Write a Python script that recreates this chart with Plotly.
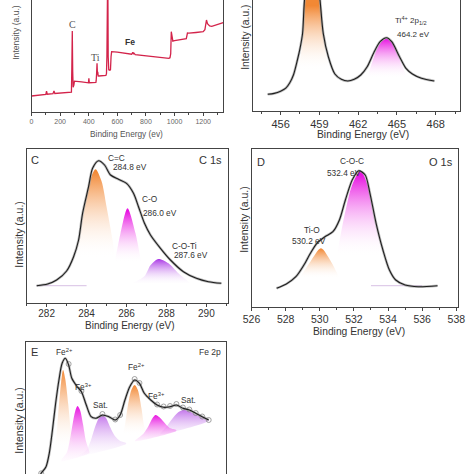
import plotly.graph_objects as go

# ---------------- data ----------------
# Panel A : survey spectrum
survey_be = [0, 50, 100, 105, 110, 150, 157, 163, 200, 270,
             279, 282, 285, 288, 291, 296, 300, 350, 393, 398,
             401, 404, 450, 452, 455, 458, 461, 463, 466, 470,
             520, 524, 527, 530, 533, 536, 540, 548, 552, 556,
             560, 600, 650, 700, 708, 712, 716, 725, 800, 900,
             960, 968, 973, 977, 982, 988, 1000, 1050, 1082, 1090,
             1100, 1150, 1200, 1212, 1218, 1223, 1230, 1245, 1260, 1290,
             1320, 1340]
survey_int = [15.7, 16.3, 17.4, 20.5, 17.5, 18.0, 20.8, 18.2, 18.8, 19.2,
              19.5, 45, 80.7, 40, 24.5, 26.5, 30.5, 29.8, 28.7, 28.9,
              33.5, 29, 29.4, 31, 38, 48.5, 37, 40, 35.8, 35.7,
              36.2, 38, 55, 150, 150, 55, 42, 41.5, 42, 55,
              60, 59.5, 58.5, 57.5, 59.5, 58, 58.5, 57, 55.8, 54.5,
              53.4, 54, 58, 80, 74, 70.5, 71, 72.5, 73, 78.7,
              78.5, 79.2, 80, 82, 88, 91.7, 88, 85.7, 85.3, 86.5,
              88.2, 89]
survey_labels = ["C", "Ti", "Fe"]

# Panel B : Ti 2p
ti_be = [455.0, 455.5, 456.0, 456.4, 456.7, 457.0, 457.3, 457.5, 457.7, 457.85,
         458.1, 458.5, 458.85, 459.05, 459.3, 459.7, 460.2, 460.7, 461.2, 461.7,
         462.2, 462.7, 463.2, 463.7, 464.2, 464.6, 465.2, 465.7, 466.2, 466.9, 467.9]
ti_int = [16.4, 17.3, 19.5, 22.5, 27.7, 36, 50.7, 62, 77.4, 110.7,
          132, 142, 132, 110.7, 77.4, 53.7, 36.7, 31.4, 29.7, 31.4,
          35.7, 44, 57.7, 69, 73, 69, 54, 42.4, 36.7, 32.4, 29.7]
ti32_be = [457.0, 457.3, 457.7, 457.85, 458.5, 459.05, 459.3, 459.7, 460.2, 460.6]
ti32_int = [20, 35, 70, 110.7, 142, 110.7, 75, 45, 25, 18]
ti12_be = [462.6, 463.0, 463.4, 463.8, 464.2, 464.6, 465.0, 465.4, 465.8, 466.2]
ti12_int = [28, 45, 60, 69, 72, 68.5, 58, 45, 33, 26]

# Panel C : C 1s
c_be = [281.5, 282.05, 282.5, 283.0, 283.35, 283.6, 283.8, 284.1, 284.3, 284.6,
        284.9, 285.2, 285.6, 286.0, 286.35, 286.6, 286.9, 287.2, 287.7, 288.2,
        288.85, 289.5, 290.1, 290.75]
c_int = [17.6, 19.3, 23.3, 32.3, 46.6, 63.3, 90, 116.6, 135, 142.6,
         138.3, 128.3, 124, 120, 110, 96.6, 80, 68.3, 55, 43.3,
         31.6, 25, 21.6, 20]
cc_be = [282.9, 283.3, 283.6, 283.9, 284.15, 284.45, 284.75, 285.0, 285.3, 285.55, 285.8]
cc_int = [18, 35, 63, 96.6, 122, 134, 122, 96.6, 63.3, 30.3, 18]
co_be = [285.25, 285.45, 285.7, 286.05, 286.45, 286.7, 286.9]
co_int = [25, 45, 70, 95, 70, 45, 25]
coti_be = [286.3, 286.9, 287.2, 287.6, 288.1, 288.6, 289.2]
coti_int = [20, 27, 38, 44.3, 40, 30, 20]
c_base_be = [281.5, 284.0]
c_base_int = [17.6, 17.6]

# Panel D : O 1s
o_be = [527.47, 528.04, 528.6, 529.07, 529.45, 529.83, 530.3, 530.77, 531.15, 531.5,
        531.9, 532.28, 532.66, 532.94, 533.3, 533.7, 534.08, 534.45, 535.0, 535.77, 536.9]
o_int = [18.4, 22.7, 30, 41.7, 53.4, 63.4, 70, 75, 86.7, 106.7,
         126.7, 136, 131.7, 113.4, 83.4, 56.7, 36.7, 26.7, 21.7, 20, 21]
tio_be = [528.7, 529.0, 529.45, 530.07, 530.66, 531.0, 531.25]
tio_int = [25, 33.4, 45, 58.4, 45, 34, 25]
coc_be = [530.8, 531.1, 531.43, 531.9, 532.38, 532.8, 533.1, 533.5, 533.8, 534.1]
coc_int = [30, 60, 90, 122, 136, 122, 95, 66, 45, 30]
o_base_be = [533.0, 536.0]
o_base_int = [21, 21]

# Panel E : Fe 2p
fe_be = [706.0, 706.62, 707.44, 707.99, 708.53, 709.07, 709.63, 710.17, 710.71, 711.27,
         711.81, 712.63, 713.44, 714.26, 715.08, 715.9, 717.0, 718.08, 719.17, 720.0,
         720.81, 721.63, 722.45, 723.27, 724.09, 725.18, 726.26, 727.36, 728.45, 729.53,
         730.63, 731.72, 732.8, 733.9, 735.0]
fe_int = [-5, 0.7, 7.3, 20.7, 44, 70.7, 94, 110.7, 115.7, 109,
          95.7, 88, 82.3, 69, 57.3, 55.7, 59, 57.3, 54, 59,
          74, 87.3, 94, 90.7, 80.7, 74, 69, 66.7, 67.3, 69,
          65.7, 64, 60.7, 57.3, 54]
fe_pts_be = [706.62, 711.27, 713.44, 717.0, 719.17, 720.0, 722.45, 723.27, 726.26,
             727.36, 728.45, 729.53, 730.63, 731.72, 732.8, 733.9, 735.0]
fe_pts_int = [0.7, 110, 83, 60, 54.5, 59, 95, 91, 69.5, 67.5, 68, 70, 66.5, 64.5, 61, 57.5, 54]
fe2a_be = [708.5, 709.0, 709.5, 710.0, 710.33, 710.7, 711.2, 711.7, 712.3, 712.3, 708.5]
fe2a_int = [11, 25, 60, 92, 104, 95, 70, 40, 17, 17, 11]
fe3a_be = [710.0, 711.0, 711.6, 712.1, 712.5, 712.79, 713.2, 713.7, 714.2, 714.8, 714.8, 710.0]
fe3a_int = [13, 22, 38, 55, 65, 68, 64, 50, 33, 22, 21, 13]
sata_be = [713.0, 714.3, 715.0, 715.8, 716.4, 717.0, 717.6, 718.3, 719.1, 720.0, 721.0, 721.0, 713.0]
sata_int = [18, 24, 33, 48, 56, 59, 56, 47, 38, 33, 31, 30, 18]
fe2b_be = [720.0, 720.7, 721.3, 721.9, 722.45, 723.0, 723.6, 724.1, 724.7, 724.7, 720.0]
fe2b_int = [30, 45, 68, 84, 89, 84, 66, 47, 37, 36, 30]
fe3b_be = [722.5, 723.9, 724.8, 725.5, 726.0, 726.6, 727.4, 728.4, 729.5, 729.5, 722.5]
fe3b_int = [33, 40, 48, 56, 59, 57, 52, 46, 44, 43, 33]
satb_be = [726.8, 727.8, 728.8, 729.7, 730.6, 731.6, 732.6, 733.8, 735.0, 735.0, 726.8]
satb_int = [40, 47, 55, 61, 64, 63, 60, 57, 54, 53, 40]

# ---------------- styling helpers ----------------
W = H = 474
def fx(x):
    return x / W
def fy(y):
    return 1 - y / H

AX = "#444444"
TXT = "#333333"
ORANGE = "rgb(242,136,52)"
MAGENTA = "rgb(232,20,225)"
VIOLET = "rgb(172,60,230)"
LVIOLET = "rgb(196,120,235)"
FONT = "Liberation Sans, Arial, sans-serif"

fig = go.Figure()

def comp(xs, ys, color, lo, hi, ax):
    fig.add_trace(go.Scatter(
        x=xs, y=ys, mode="lines", fill="toself",
        line=dict(width=0, shape="spline", smoothing=0.8),
        fillgradient=dict(type="vertical", start=lo, stop=hi,
                          colorscale=[[0, "rgba(255,255,255,0)"], [1, color]]),
        xaxis="x" + ax, yaxis="y" + ax, hoverinfo="skip", showlegend=False))

def env(xs, ys, ax, pts=None):
    if pts is not None:
        fig.add_trace(go.Scatter(x=pts[0], y=pts[1], mode="markers",
                                 marker=dict(symbol="circle-open", size=5, color="#8a8a8a",
                                             line=dict(width=0.8)),
                                 xaxis="x" + ax, yaxis="y" + ax, showlegend=False))
    fig.add_trace(go.Scatter(x=xs, y=ys, mode="lines",
                             line=dict(color="rgba(160,160,160,0.7)", width=2.6, shape="spline", smoothing=0.8),
                             xaxis="x" + ax, yaxis="y" + ax, showlegend=False))
    fig.add_trace(go.Scatter(x=xs, y=ys, mode="lines",
                             line=dict(color="#1e1e1e", width=1.1, shape="spline", smoothing=0.8),
                             xaxis="x" + ax, yaxis="y" + ax, showlegend=False))

# A
fig.add_trace(go.Scatter(x=survey_be, y=survey_int, mode="lines",
                         line=dict(color="#d3234a", width=1.3),
                         xaxis="x", yaxis="y", showlegend=False))
# B
comp(ti32_be, ti32_int, ORANGE, 40, 105, "2")
comp(ti12_be, ti12_int, MAGENTA, 32, 72, "2")
env(ti_be, ti_int, "2")
# C
fig.add_trace(go.Scatter(x=c_base_be, y=c_base_int, mode="lines",
                         line=dict(color="rgba(190,150,210,0.6)", width=1),
                         xaxis="x3", yaxis="y3", showlegend=False))
comp(cc_be, cc_int, ORANGE, 45, 132, "3")
comp(co_be, co_int, MAGENTA, 40, 92, "3")
comp(coti_be, coti_int, VIOLET, 18, 44, "3")
env(c_be, c_int, "3")
# D
fig.add_trace(go.Scatter(x=o_base_be, y=o_base_int, mode="lines",
                         line=dict(color="rgba(190,150,210,0.6)", width=1),
                         xaxis="x4", yaxis="y4", showlegend=False))
comp(tio_be, tio_int, ORANGE, 28, 58, "4")
comp(coc_be, coc_int, MAGENTA, 50, 132, "4")
env(o_be, o_int, "4")
# E
comp(sata_be, sata_int, LVIOLET, 12, 59, "5")
comp(satb_be, satb_int, LVIOLET, 30, 64, "5")
comp(fe3a_be, fe3a_int, MAGENTA, 5, 68, "5")
comp(fe3b_be, fe3b_int, MAGENTA, 25, 59, "5")
comp(fe2a_be, fe2a_int, ORANGE, 25, 104, "5")
comp(fe2b_be, fe2b_int, ORANGE, 38, 89, "5")
env(fe_be, fe_int, "5", pts=(fe_pts_be, fe_pts_int))

def xax(dom, rng, dtick, minor, tick0, fsize, fcolor=TXT, mirror=False, side="bottom", labels=True):
    d = dict(domain=dom, range=rng, showline=True, linecolor=AX, linewidth=1,
             mirror=mirror, side=side, showgrid=False, zeroline=False,
             tickfont=dict(family=FONT, size=fsize, color=fcolor),
             ticks="outside" if labels else "", ticklen=3, tickcolor=AX,
             tick0=tick0, dtick=dtick, showticklabels=labels)
    if labels and minor:
        d["minor"] = dict(dtick=minor, ticks="outside", ticklen=2, tickcolor=AX, showgrid=False)
    return d

def yax(dom, rng, anchor):
    return dict(domain=dom, range=rng, showline=True, linecolor=AX, linewidth=1,
                mirror=True, showgrid=False, zeroline=False, showticklabels=False,
                ticks="", anchor=anchor)

fig.update_layout(
    width=W, height=H, margin=dict(l=0, r=0, t=0, b=0),
    paper_bgcolor="white", plot_bgcolor="white", showlegend=False,
    xaxis=xax([fx(23.3), fx(221.7)], [0, 1340], 200, 100, 0, 7, "#666666"),
    yaxis=yax([fy(111.7), 1.0], [0, 111.7], "x"),
    xaxis2=xax([fx(253), fx(467)], [453.9, 469.9], 3, 1.5, 456, 11),
    yaxis2=yax([fy(110.7), 1.0], [0, 110.7], "x2"),
    xaxis3=xax([fx(18.3), fx(227)], [281, 291.1], 2, 1, 282, 10, mirror=True),
    yaxis3=yax([fy(303.3), fy(149.3)], [0, 154], "x3"),
    xaxis4=xax([fx(251), fx(464.7)], [526, 538.1], 2, 1, 526, 10.5, mirror=True),
    yaxis4=yax([fy(306.7), fy(149.3)], [0, 157.4], "x4"),
    xaxis5=xax([fx(17.3), fx(225)], [704, 738], 5, None, 705, 10, side="top", labels=False),
    yaxis5=yax([0, fy(341.7)], [0, 132.3], "x5"),
)
fig.update_layout(xaxis=dict(anchor="y"), xaxis2=dict(anchor="y2"),
                  xaxis3=dict(anchor="y3", ticklabelstandoff=-2),
                  xaxis4=dict(anchor="y4"), xaxis5=dict(anchor="y5"))

ann = []
def txt(x, y, s, size, color=TXT, xanchor="center", angle=0, family=FONT):
    ann.append(dict(x=fx(x), y=fy(y), xref="paper", yref="paper", text=s, showarrow=False,
                    xanchor=xanchor, yanchor="middle", textangle=angle,
                    font=dict(family=family, size=size, color=color)))

# axis titles
txt(122, 134, "Binding Energy (ev)", 8.3, "#555555")
txt(366, 135, "Binding Energy (eV)", 10.3)
txt(125, 325, "Binding Energy (eV)", 10)
txt(362, 331, "Binding Energy (eV)", 10.3)
txt(7, 32, "Intensity (a.u.)", 8.6, "#555555", angle=-90)
txt(244, 37, "Intensity (a.u.)", 10.3, angle=-90)
txt(10, 234, "Intensity (a.u.)", 10.5, angle=-90)
txt(243, 219, "Intensity (a.u.)", 10.5, angle=-90)
txt(10, 420, "Intensity (a.u.)", 10.5, angle=-90)

# panel A labels
txt(66, 24.3, survey_labels[0], 10, "#555555", family="Liberation Serif, Times New Roman, serif")
txt(90, 57.3, survey_labels[1], 10, "#555555", family="Liberation Serif, Times New Roman, serif")
txt(125, 42.3, "<b>" + survey_labels[2] + "</b>", 8.6, TXT)
# panel B labels
txt(397, 20, "Ti<sup>4+</sup> 2p<sub>1/2</sub>", 8, xanchor="left")
txt(399.7, 34.3, "464.2 eV", 8, xanchor="left")
# panel C labels
txt(21, 160, "C", 11, xanchor="left")
txt(223, 160, "C 1s", 11, xanchor="right")
txt(100, 158.3, "C=C", 8.3, xanchor="left")
txt(106, 167.3, "284.8 eV", 8.3, xanchor="left")
txt(136, 199.3, "C-O", 8.3, xanchor="left")
txt(137, 212.7, "286.0 eV", 8.3, xanchor="left")
txt(166.7, 246, "C-O-Ti", 8.3, xanchor="left")
txt(168.3, 255, "287.6 eV", 8.3, xanchor="left")
# panel D labels
txt(255, 161.7, "D", 11, xanchor="left")
txt(462, 161.7, "O 1s", 11, xanchor="right")
txt(340.3, 161, "C-O-C", 8.3, xanchor="left")
txt(327, 173.3, "532.4 eV", 8.3, xanchor="left")
txt(303.7, 230, "Ti-O", 8.3, xanchor="left")
txt(290.3, 241, "530.2 eV", 8.3, xanchor="left")
# panel E labels
txt(21, 351.7, "E", 11, xanchor="left")
txt(208, 351.7, "Fe 2p", 8.5)
txt(57, 351.7, "Fe<sup>2+</sup>", 8.3)
txt(76.7, 387.3, "Fe<sup>3+</sup>", 8.3)
txt(95, 405, "Sat.", 8.3)
txt(131.7, 367.3, "Fe<sup>2+</sup>", 8.3)
txt(153, 395.7, "Fe<sup>3+</sup>", 8.3)
txt(186, 400, "Sat.", 8.3)

fig.update_layout(annotations=ann)
fig.write_html("out.html")
